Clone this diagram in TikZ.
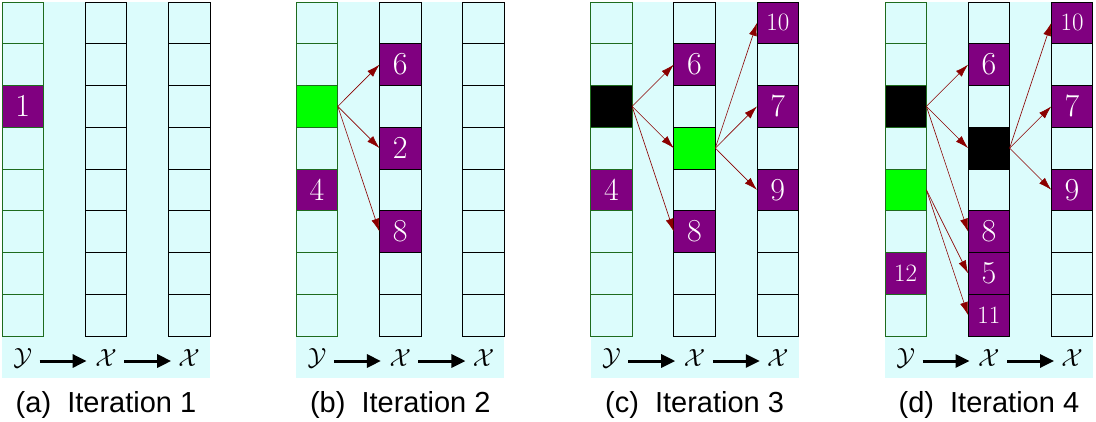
\documentclass[tikz,border=0pt]{standalone}
\usepackage{fontspec}
\setsansfont{Liberation Sans}
\usetikzlibrary{arrows.meta}
\definecolor{bgc}{HTML}{DCFCFC}
\definecolor{purp}{HTML}{800080}
\definecolor{dgreen}{HTML}{1E6B1E}
\definecolor{ared}{HTML}{8B0000}
\tikzset{
  cellbox/.style={draw=black,line width=0.7pt,minimum width=41.5pt,minimum height=41.75pt,inner sep=0pt,outer sep=0pt},
  numbox/.style={cellbox,fill=purp,text=white,font=\fontsize{32}{32}\selectfont},
  numboxs/.style={numbox,font=\fontsize{25}{25}\selectfont},
  greenbox/.style={cellbox,fill=green},
  blackbox/.style={cellbox,fill=black},
  link/.style={draw=ared,line width=0.6pt,-{Latex[length=13pt,width=8pt]}},
  bigarrow/.style={line width=3pt,-{Triangle[length=14pt,width=13pt]}},
  lab/.style={font=\fontsize{26}{26}\selectfont},
  captxt/.style={font=\sffamily\fontsize{29}{29}\selectfont}
}
\begin{document}
\begin{tikzpicture}[x=1pt,y=-1pt]
\useasboundingbox (0,0) rectangle (1096,421);
\foreach \p/\l in {0/a,1/b,2/c,3/d}{
  \pgfmathsetmacro{\ox}{2+294.3*\p}
  \fill[bgc] (\ox,2) rectangle (\ox+208,378);
  \foreach \c in {0,1,2}{
    \pgfmathsetmacro{\cx}{\ox+83.2*\c}
    \foreach \r in {0,...,7}{
      \ifnum\c=0
        \draw[draw=dgreen,line width=0.7pt,fill=bgc] (\cx,2+41.75*\r) rectangle ++(41.5,41.75);
      \else
        \draw[line width=0.7pt,fill=bgc] (\cx,2+41.75*\r) rectangle ++(41.5,41.75);
      \fi
    }
  }
  \node[lab] (y\l) at (\ox+20.75,358) {$\mathcal{Y}$};
  \node[lab] (xa\l) at (\ox+103.95,358) {$\mathcal{X}$};
  \node[lab] (xb\l) at (\ox+187.15,358) {$\mathcal{X}$};
  \draw[bigarrow] (y\l.east) ++(4,3) -- ++(47,0);
  \draw[bigarrow] (xa\l.east) ++(4,3) -- ++(47,0);
  \node[captxt] (cap\l) at (\ox+104,405) {(\l)\ \ Iteration \the\numexpr\p+1\relax};
}
\def\yr#1{22.875+41.75*#1}
% panel a
\node[numbox,draw=dgreen] (a1) at (22.75,\yr{2}) {1};
% panel b
\node[greenbox,draw=dgreen] (bg) at (317.05,\yr{2}) {};
\node[numbox,draw=dgreen] (b4) at (317.05,\yr{4}) {4};
\node[numbox] (b6) at (400.25,\yr{1}) {6};
\node[numbox] (b2) at (400.25,\yr{3}) {2};
\node[numbox] (b8) at (400.25,\yr{5}) {8};
\foreach \t in {b6,b2,b8} \draw[link] (bg.east) -- (\t.west);
% panel c
\node[blackbox,draw=dgreen] (ck) at (611.35,\yr{2}) {};
\node[numbox,draw=dgreen] (c4) at (611.35,\yr{4}) {4};
\node[numbox] (c6) at (694.55,\yr{1}) {6};
\node[greenbox] (cg) at (694.55,\yr{3}) {};
\node[numbox] (c8) at (694.55,\yr{5}) {8};
\node[numboxs] (c10) at (777.75,\yr{0}) {10};
\node[numbox] (c7) at (777.75,\yr{2}) {7};
\node[numbox] (c9) at (777.75,\yr{4}) {9};
\foreach \t in {c6,cg,c8} \draw[link] (ck.east) -- (\t.west);
\foreach \t in {c10,c7,c9} \draw[link] (cg.east) -- (\t.west);
% panel d
\node[blackbox,draw=dgreen] (dk) at (905.65,\yr{2}) {};
\node[greenbox,draw=dgreen] (dg) at (905.65,\yr{4}) {};
\node[numboxs,draw=dgreen] (d12) at (905.65,\yr{6}) {12};
\node[numbox] (d6) at (988.85,\yr{1}) {6};
\node[blackbox] (dk2) at (988.85,\yr{3}) {};
\node[numbox] (d8) at (988.85,\yr{5}) {8};
\node[numbox] (d5) at (988.85,\yr{6}) {5};
\node[numboxs] (d11) at (988.85,\yr{7}) {11};
\node[numboxs] (d10) at (1072.05,\yr{0}) {10};
\node[numbox] (d7) at (1072.05,\yr{2}) {7};
\node[numbox] (d9) at (1072.05,\yr{4}) {9};
\foreach \t in {d6,dk2,d8} \draw[link] (dk.east) -- (\t.west);
\foreach \t in {d5,d11} \draw[link] (dg.east) -- (\t.west);
\foreach \t in {d10,d7,d9} \draw[link] (dk2.east) -- (\t.west);
\end{tikzpicture}
\end{document}
